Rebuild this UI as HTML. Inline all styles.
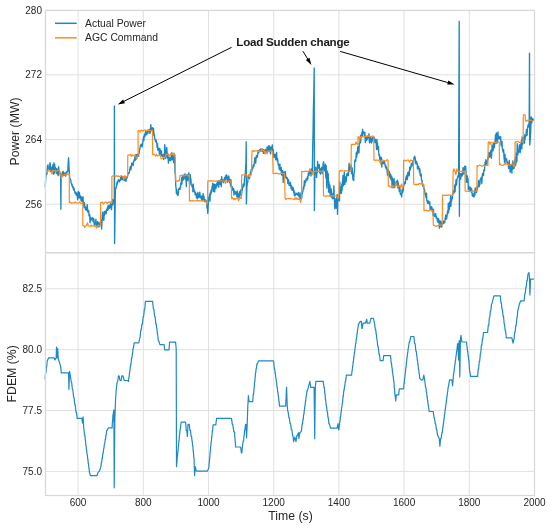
<!DOCTYPE html>
<html><head><meta charset="utf-8"><title>Power and FDEM</title>
<style>html,body{margin:0;padding:0;background:#fff;}svg{display:block;}</style></head>
<body>
<svg width="550" height="529" viewBox="0 0 550 529">
<rect width="550" height="529" fill="#ffffff"/>
<g stroke="#e0e0e0" stroke-width="1" fill="none"><line x1="78.10" y1="10.4" x2="78.10" y2="495.5"/><line x1="143.30" y1="10.4" x2="143.30" y2="495.5"/><line x1="208.50" y1="10.4" x2="208.50" y2="495.5"/><line x1="273.70" y1="10.4" x2="273.70" y2="495.5"/><line x1="338.90" y1="10.4" x2="338.90" y2="495.5"/><line x1="404.10" y1="10.4" x2="404.10" y2="495.5"/><line x1="469.30" y1="10.4" x2="469.30" y2="495.5"/><line x1="534.50" y1="10.4" x2="534.50" y2="495.5"/><line x1="45.5" y1="204.20" x2="534.5" y2="204.20"/><line x1="45.5" y1="139.50" x2="534.5" y2="139.50"/><line x1="45.5" y1="74.80" x2="534.5" y2="74.80"/><line x1="45.5" y1="471.40" x2="534.5" y2="471.40"/><line x1="45.5" y1="410.52" x2="534.5" y2="410.52"/><line x1="45.5" y1="349.65" x2="534.5" y2="349.65"/><line x1="45.5" y1="288.77" x2="534.5" y2="288.77"/></g>
<g fill="none" stroke-linejoin="round" stroke-linecap="butt" stroke-width="1.3">
<polyline stroke="#1b87c5" stroke-width="1.35" points="45.0,185.7 45.3,186.4 45.7,178.7 46.0,175.7 46.3,173.4 46.7,174.7 47.0,173.3 47.3,167.6 47.6,165.6 48.0,164.9 48.3,168.7 48.6,168.1 49.0,168.6 49.3,169.4 49.6,167.4 50.0,162.6 50.3,164.2 50.6,171.5 51.0,169.5 51.3,167.8 51.6,171.7 51.9,168.4 52.3,166.5 52.6,169.3 52.9,164.6 53.3,166.5 53.6,174.3 53.9,163.0 54.3,173.4 54.6,164.0 54.9,168.5 55.3,167.2 55.6,168.5 55.9,169.9 56.2,173.0 56.6,171.9 56.9,168.7 57.2,174.0 57.6,169.8 57.9,170.1 58.2,175.7 58.6,166.7 59.0,171.1 59.3,172.5 59.7,172.7 60.1,172.2 60.6,173.5 60.9,209.2 61.1,175.6 61.5,177.7 61.8,174.6 62.2,175.1 62.5,172.3 62.8,171.8 63.2,171.4 63.5,175.7 63.8,172.6 64.2,173.6 64.5,175.2 64.8,173.2 65.2,173.4 65.6,176.1 65.9,173.8 66.3,172.1 66.7,172.0 67.0,172.7 67.4,170.7 67.8,171.5 68.2,162.2 68.6,157.7 68.9,165.4 69.3,172.0 69.7,177.8 70.1,178.9 70.5,179.4 70.8,180.4 71.1,182.9 71.5,183.5 71.8,185.4 72.1,184.1 72.5,187.1 72.8,187.4 73.1,186.7 73.5,189.8 73.8,187.8 74.2,188.8 74.5,190.5 74.8,192.1 75.2,193.6 75.5,193.7 75.9,192.3 76.2,195.1 76.6,193.4 76.9,193.3 77.3,196.1 77.6,199.8 78.0,195.5 78.3,191.3 78.7,197.6 79.0,195.8 79.4,192.3 79.7,196.0 80.1,198.6 80.4,195.9 80.7,196.9 81.1,200.8 81.4,196.9 81.7,201.3 82.0,197.9 82.4,200.8 82.7,202.0 83.0,196.6 83.4,203.9 83.7,202.1 84.0,207.2 84.4,202.9 84.7,205.7 85.0,207.2 85.4,209.6 85.7,207.2 86.0,207.7 86.3,210.2 86.7,209.8 87.0,207.7 87.3,204.6 87.7,211.9 88.0,212.1 88.3,211.9 88.7,210.5 89.0,215.9 89.3,215.5 89.7,214.5 90.0,222.8 90.3,220.3 90.6,217.3 91.0,220.4 91.3,219.2 91.6,218.7 92.0,219.3 92.3,217.6 92.6,218.2 93.0,221.1 93.3,222.0 93.6,218.4 94.0,220.1 94.3,225.0 94.6,223.5 94.9,224.3 95.3,222.9 95.6,223.4 95.9,219.2 96.3,226.0 96.6,225.9 96.9,224.0 97.3,221.9 97.6,221.6 97.9,224.5 98.3,226.0 98.6,222.6 98.9,226.9 99.2,226.5 99.6,223.9 99.9,225.2 100.2,222.0 100.6,223.4 100.9,219.6 101.2,220.7 101.6,229.0 101.9,224.1 102.2,216.9 102.6,212.1 102.9,219.8 103.2,214.7 103.5,215.8 103.9,220.3 104.2,211.5 104.5,215.2 104.9,212.5 105.2,211.3 105.5,213.4 105.9,213.7 106.2,213.8 106.5,209.4 106.9,209.8 107.2,208.0 107.5,210.4 107.8,206.2 108.2,209.7 108.5,205.2 108.8,208.4 109.2,205.5 109.5,207.0 109.8,208.2 110.2,206.6 110.5,203.3 110.8,205.1 111.2,206.4 111.5,209.6 111.9,204.5 112.2,204.1 112.6,199.4 112.9,204.9 113.3,201.0 113.6,201.1 114.0,200.4 114.3,197.3 114.4,106.0 114.6,243.6 115.4,189.4 115.9,188.4 116.3,187.3 116.7,185.1 117.0,182.3 117.4,184.2 117.8,181.9 118.1,180.4 118.4,179.7 118.8,179.6 119.1,180.1 119.4,181.9 119.8,180.7 120.1,180.5 120.4,180.4 120.7,177.4 121.1,179.8 121.4,176.2 121.7,178.3 122.1,176.3 122.4,179.7 122.7,179.3 123.1,178.2 123.4,177.0 123.7,178.2 124.1,180.5 124.4,179.7 124.7,177.4 125.0,176.9 125.4,181.0 125.7,178.4 126.1,181.0 126.5,176.8 126.8,177.1 127.2,177.9 127.6,175.9 127.9,174.4 128.3,172.8 128.6,172.7 129.0,173.5 129.3,172.1 129.7,170.1 130.0,168.2 130.3,166.4 130.7,169.9 131.0,169.2 131.3,167.5 131.7,163.3 132.0,164.7 132.3,163.1 132.7,163.6 133.0,165.6 133.3,164.9 133.6,161.2 134.0,161.1 134.3,159.6 134.6,160.9 135.0,156.2 135.3,160.2 135.6,157.1 136.0,159.3 136.3,158.9 136.6,154.5 137.0,155.1 137.3,154.4 137.6,155.7 137.9,156.3 138.3,154.3 138.6,156.2 138.9,153.5 139.3,152.2 139.6,149.2 139.9,149.0 140.3,146.0 140.6,145.0 140.9,144.5 141.3,145.7 141.6,146.3 141.9,144.0 142.2,146.9 142.6,143.6 142.9,141.0 143.2,139.5 143.6,136.7 143.9,140.5 144.2,135.9 144.6,134.1 144.9,136.3 145.2,133.9 145.6,131.5 145.9,134.8 146.2,135.0 146.5,133.4 146.9,131.2 147.2,133.7 147.5,131.7 147.9,133.5 148.2,131.4 148.5,131.2 148.9,129.8 149.2,129.3 149.5,131.4 149.9,133.4 150.2,132.8 150.5,130.0 150.8,124.6 151.2,129.2 151.5,127.8 151.8,129.6 152.2,131.0 152.5,127.7 152.8,134.9 153.2,129.9 153.5,128.4 153.8,132.7 154.2,135.7 154.5,135.1 154.8,139.0 155.1,139.4 155.5,141.7 155.8,140.7 156.1,139.8 156.5,142.8 156.8,142.7 157.1,147.4 157.5,143.6 157.8,150.1 158.1,150.1 158.5,149.4 158.8,148.3 159.1,150.7 159.4,154.5 159.8,148.4 160.1,152.0 160.4,154.7 160.8,150.4 161.1,155.8 161.4,150.8 161.8,155.0 162.1,156.0 162.4,155.2 162.8,156.2 163.1,154.8 163.4,154.4 163.7,159.5 164.1,155.7 164.4,155.6 164.7,144.6 165.1,148.2 165.4,158.6 165.7,157.8 166.1,154.0 166.4,153.4 166.7,147.4 167.1,152.4 167.4,158.1 167.7,153.5 168.0,154.3 168.4,163.2 168.7,157.3 169.0,157.8 169.4,159.9 169.7,157.5 170.0,160.8 170.4,160.0 170.7,160.5 171.0,159.7 171.4,153.0 171.7,159.5 172.0,159.7 172.3,155.2 172.7,159.5 173.0,156.9 173.3,159.0 173.7,162.6 174.0,153.2 174.3,162.1 174.7,157.6 175.0,173.3 175.4,172.8 175.7,185.1 176.1,188.3 176.4,193.4 176.8,189.6 177.2,194.8 177.5,194.2 177.9,195.6 178.3,193.9 178.6,189.0 179.0,189.3 179.3,187.9 179.6,189.4 180.0,189.4 180.3,186.7 180.6,187.1 180.9,183.0 181.3,184.4 181.6,177.9 181.9,184.0 182.3,176.7 182.6,180.5 182.9,180.3 183.3,175.1 183.6,179.5 183.9,175.3 184.3,177.8 184.6,175.7 185.0,173.8 185.3,179.1 185.6,175.8 186.0,176.1 186.3,186.5 186.6,176.8 186.9,174.5 187.3,178.1 187.6,175.4 187.9,180.6 188.3,177.0 188.6,174.0 188.9,172.8 189.3,176.2 189.6,184.2 189.9,180.1 190.3,174.7 190.6,178.7 190.9,178.9 191.2,185.0 191.6,184.9 191.9,185.5 192.2,187.2 192.6,184.8 192.9,191.8 193.2,184.0 193.6,188.3 193.9,189.0 194.2,191.7 194.6,191.1 194.9,192.2 195.2,194.8 195.5,192.4 195.9,193.4 196.2,194.8 196.5,197.6 196.9,194.2 197.2,198.9 197.5,197.0 197.9,192.3 198.2,196.9 198.5,196.7 198.9,197.8 199.2,194.3 199.5,193.5 199.8,192.1 200.2,197.1 200.5,197.8 200.8,196.6 201.2,197.1 201.5,199.8 201.8,195.8 202.2,197.3 202.5,196.6 202.8,200.6 203.2,193.5 203.5,197.1 203.8,195.7 204.1,197.5 204.5,201.6 204.8,199.3 205.1,199.9 205.5,200.8 205.9,200.2 206.3,201.0 206.6,202.3 207.0,207.8 207.4,208.4 207.8,213.4 208.2,206.0 208.6,198.3 208.9,197.5 209.3,196.5 209.6,194.1 210.0,201.2 210.3,192.8 210.7,194.9 211.0,190.2 211.4,192.7 211.8,189.7 212.1,186.2 212.4,187.2 212.7,183.1 213.1,186.3 213.4,191.5 213.7,184.4 214.1,186.8 214.4,184.1 214.7,191.9 215.1,187.3 215.4,185.1 215.7,184.8 216.1,188.2 216.4,183.9 216.7,186.5 217.0,185.4 217.4,181.6 217.7,181.9 218.0,182.0 218.4,184.9 218.7,187.2 219.0,180.6 219.4,184.4 219.7,182.0 220.0,182.0 220.4,179.9 220.7,184.6 221.0,181.3 221.3,186.8 221.7,176.6 222.0,180.9 222.3,180.8 222.7,181.2 223.0,179.9 223.4,182.7 223.8,179.8 224.1,181.6 224.5,177.7 224.8,177.7 225.2,180.1 225.5,175.9 225.9,179.1 226.2,176.1 226.6,174.8 226.9,176.1 227.3,178.1 227.6,182.1 228.0,180.1 228.3,179.5 228.6,175.9 229.0,177.2 229.3,181.9 229.6,179.1 229.9,183.0 230.3,183.0 230.6,186.4 230.9,179.6 231.3,184.8 231.6,186.4 231.9,189.6 232.3,186.8 232.6,190.2 232.9,190.0 233.3,189.3 233.6,188.4 233.9,195.0 234.2,190.7 234.6,191.1 234.9,193.6 235.2,191.7 235.6,194.1 235.9,193.5 236.2,192.2 236.6,194.2 236.9,196.7 237.2,190.9 237.6,193.8 237.9,198.0 238.2,194.0 238.5,194.8 238.9,193.7 239.2,197.8 239.5,191.8 239.9,193.1 240.2,194.1 240.5,189.9 240.9,195.7 241.2,192.4 241.5,195.4 241.9,190.4 242.2,190.8 242.5,187.4 242.8,186.9 243.2,183.9 243.5,187.1 243.9,186.0 244.2,185.2 244.6,177.1 245.0,175.9 245.4,172.2 245.9,162.9 246.2,141.8 246.4,203.9 246.9,186.7 247.5,182.8 247.8,181.5 248.1,177.7 248.5,175.9 248.8,177.5 249.1,176.6 249.5,178.5 249.8,175.3 250.1,174.9 250.5,171.7 250.8,174.0 251.1,169.7 251.4,171.1 251.8,171.4 252.1,170.2 252.4,167.1 252.8,168.6 253.1,165.4 253.4,164.7 253.8,166.7 254.1,164.7 254.4,162.0 254.8,157.7 255.1,161.5 255.4,160.1 255.7,163.2 256.1,158.3 256.4,155.4 256.7,156.4 257.1,157.4 257.4,157.2 257.7,154.2 258.1,151.9 258.4,150.6 258.7,152.9 259.1,150.3 259.4,151.0 259.7,150.8 260.0,149.5 260.4,149.2 260.7,149.4 261.0,149.0 261.4,151.2 261.7,149.9 262.0,151.3 262.4,148.9 262.7,150.6 263.0,149.4 263.4,153.4 263.7,149.7 264.0,151.3 264.3,153.1 264.7,152.4 265.0,151.6 265.3,149.5 265.7,150.1 266.0,150.2 266.3,152.8 266.7,153.1 267.0,147.1 267.3,148.6 267.7,149.2 268.0,151.4 268.3,146.0 268.6,150.2 269.0,151.6 269.3,146.5 269.6,145.8 270.0,147.8 270.3,152.2 270.6,153.9 271.0,148.4 271.3,147.1 271.6,148.0 272.0,148.9 272.3,144.8 272.6,150.2 272.9,150.9 273.3,149.6 273.6,154.9 273.9,157.4 274.3,154.1 274.6,155.1 274.9,156.7 275.3,154.5 275.6,159.7 275.9,157.8 276.3,156.7 276.6,152.4 276.9,158.9 277.2,161.1 277.6,158.7 277.9,161.5 278.2,165.0 278.6,164.2 278.9,164.4 279.2,169.1 279.6,165.8 279.9,164.1 280.2,170.4 280.6,169.0 280.9,170.5 281.2,167.4 281.5,174.6 281.9,175.2 282.2,171.1 282.5,170.5 282.9,171.1 283.2,182.5 283.5,174.2 283.9,173.4 284.2,172.1 284.5,174.9 284.9,174.8 285.2,171.4 285.5,173.2 285.8,177.7 286.2,176.9 286.5,178.6 286.8,178.0 287.2,177.8 287.5,178.3 287.8,183.6 288.2,179.4 288.5,183.1 288.8,180.5 289.2,185.5 289.5,184.9 289.8,183.5 290.1,185.4 290.5,182.5 290.8,185.9 291.1,188.7 291.5,187.0 291.8,185.8 292.1,190.4 292.5,189.9 292.8,187.9 293.1,187.7 293.5,189.5 293.8,193.0 294.1,190.7 294.4,195.6 294.8,192.5 295.1,195.9 295.4,194.8 295.8,194.5 296.1,193.8 296.4,194.2 296.8,193.3 297.1,194.6 297.4,194.6 297.8,195.2 298.1,194.2 298.4,192.5 298.7,194.6 299.1,197.0 299.4,196.9 299.7,199.3 300.1,192.8 300.4,198.7 300.7,195.7 301.1,195.8 301.4,199.0 301.7,197.7 302.1,194.3 302.4,193.0 302.7,191.8 303.0,191.0 303.4,186.6 303.7,189.2 304.0,185.9 304.4,180.6 304.7,186.0 305.0,182.5 305.4,182.6 305.7,182.1 306.0,179.0 306.4,180.6 306.7,179.2 307.0,180.3 307.3,177.0 307.7,179.2 308.0,177.3 308.3,173.0 308.7,174.4 309.0,175.3 309.3,173.1 309.7,169.3 310.0,173.3 310.3,169.7 310.7,171.5 311.0,176.0 311.3,173.3 311.6,168.9 312.0,171.8 312.3,172.0 312.7,147.5 313.1,130.5 313.4,108.7 313.8,94.1 314.2,68.0 314.4,210.6 315.0,167.1 315.3,172.0 315.6,169.4 315.9,167.4 316.3,174.1 316.6,177.4 316.9,171.2 317.3,172.5 317.6,161.4 317.9,165.6 318.3,168.2 318.6,167.3 319.0,167.8 319.3,164.5 319.6,172.6 320.0,168.2 320.4,174.2 320.8,172.0 321.2,170.4 321.6,167.3 321.9,170.3 322.3,173.6 322.6,170.3 322.9,166.6 323.3,162.3 323.6,161.8 323.9,167.9 324.3,170.7 324.6,165.5 324.9,168.2 325.3,164.2 325.6,172.5 325.9,177.9 326.2,165.6 326.6,182.9 326.9,188.1 327.2,171.0 327.6,179.4 327.9,182.6 328.2,173.5 328.6,192.0 328.9,181.6 329.2,192.3 329.6,186.6 329.9,185.0 330.2,196.6 330.5,188.5 330.9,188.5 331.2,189.5 331.5,190.8 331.9,197.6 332.2,193.6 332.5,198.7 332.9,196.6 333.2,198.3 333.5,196.4 333.9,185.8 334.2,197.6 334.5,201.1 334.8,208.7 335.2,203.1 335.5,207.0 335.8,198.8 336.2,208.2 336.5,201.7 336.8,197.3 337.2,194.5 337.5,214.3 337.8,200.1 338.2,200.7 338.5,200.5 338.8,195.6 339.1,199.9 339.5,200.9 339.8,181.8 340.1,193.6 340.5,186.8 340.8,188.9 341.1,187.7 341.5,193.3 341.8,183.9 342.1,190.4 342.5,181.5 342.8,179.1 343.1,175.2 343.4,185.8 343.8,181.2 344.1,178.0 344.4,172.0 344.8,184.4 345.1,182.7 345.4,176.8 345.8,178.3 346.1,181.8 346.4,179.2 346.8,173.8 347.1,175.6 347.4,175.5 347.7,173.2 348.1,172.9 348.4,175.6 348.7,169.2 349.1,163.3 349.4,171.2 349.7,168.3 350.1,170.9 350.4,166.3 350.7,167.9 351.1,164.7 351.5,173.7 351.8,169.5 352.2,168.0 352.6,175.1 353.0,179.8 353.4,179.6 353.7,180.6 354.0,173.8 354.4,172.0 354.7,161.7 355.0,159.9 355.4,160.1 355.7,161.2 356.0,157.5 356.3,152.7 356.7,157.2 357.0,151.5 357.3,154.1 357.7,147.5 358.0,146.3 358.3,151.8 358.7,150.7 359.0,153.1 359.3,143.3 359.7,144.1 360.0,141.1 360.3,135.9 360.6,142.5 361.0,136.6 361.3,134.5 361.6,135.2 362.0,132.2 362.3,136.3 362.6,129.3 363.0,132.6 363.3,132.9 363.6,131.9 364.0,132.9 364.3,135.5 364.6,134.4 364.9,132.3 365.3,142.5 365.6,140.5 365.9,137.7 366.3,137.0 366.6,140.3 366.9,138.9 367.3,139.1 367.6,138.3 367.9,136.7 368.3,135.6 368.6,136.7 368.9,133.7 369.2,140.2 369.6,142.9 369.9,138.6 370.2,138.6 370.6,136.9 370.9,142.3 371.2,138.1 371.6,143.0 371.9,140.6 372.2,141.2 372.6,137.6 372.9,138.3 373.2,138.8 373.5,136.5 373.9,139.9 374.2,137.5 374.5,139.4 374.9,142.6 375.2,139.1 375.5,140.1 375.9,140.5 376.2,142.4 376.5,149.5 376.9,139.4 377.2,146.8 377.5,142.9 377.8,149.5 378.2,149.0 378.5,146.7 378.8,154.3 379.2,156.2 379.5,154.8 379.8,159.8 380.2,156.9 380.5,159.2 380.8,160.5 381.2,162.9 381.5,157.5 381.8,167.1 382.1,161.5 382.5,163.9 382.8,162.8 383.1,162.0 383.5,162.3 383.8,163.5 384.1,161.5 384.5,162.0 384.8,163.6 385.1,165.2 385.5,167.5 385.8,165.4 386.1,167.9 386.4,169.1 386.8,167.7 387.1,169.9 387.4,175.3 387.8,170.7 388.1,169.5 388.4,170.8 388.8,174.1 389.1,176.3 389.4,171.5 389.8,173.8 390.1,177.7 390.4,178.3 390.7,174.3 391.1,179.9 391.4,177.1 391.7,176.3 392.1,187.8 392.4,178.0 392.7,179.0 393.1,181.1 393.4,180.5 393.7,187.6 394.1,178.7 394.4,187.3 394.7,187.6 395.0,181.8 395.4,184.8 395.7,183.1 396.0,183.4 396.4,184.8 396.7,181.1 397.0,181.4 397.4,180.3 397.7,187.9 398.0,181.6 398.4,184.5 398.7,185.7 399.0,186.7 399.3,191.6 399.7,187.3 400.0,188.6 400.3,194.2 400.7,194.7 401.0,194.5 401.3,193.5 401.7,196.8 402.0,189.6 402.3,192.8 402.7,192.4 403.0,191.4 403.3,189.8 403.6,183.3 404.0,185.5 404.3,182.1 404.6,184.1 405.0,182.7 405.3,183.6 405.6,180.3 406.0,176.9 406.3,179.4 406.6,175.6 407.0,177.0 407.3,179.6 407.6,173.1 407.9,172.4 408.3,174.6 408.6,176.0 408.9,171.7 409.3,175.3 409.6,167.7 409.9,166.9 410.3,169.9 410.6,167.8 410.9,168.0 411.3,163.3 411.6,165.3 411.9,164.9 412.2,165.9 412.6,163.8 412.9,161.3 413.3,164.6 413.6,163.1 414.0,157.2 414.3,158.3 414.7,156.2 415.0,157.2 415.4,159.8 415.8,163.7 416.1,163.9 416.5,161.3 416.9,163.8 417.2,163.3 417.5,168.9 417.9,166.8 418.2,168.7 418.5,166.1 418.9,168.6 419.2,169.3 419.5,172.4 419.9,169.0 420.2,175.4 420.5,175.7 420.8,176.1 421.2,174.0 421.5,180.2 421.8,180.4 422.2,180.7 422.5,184.8 422.8,185.3 423.2,186.7 423.5,185.0 423.8,187.9 424.2,188.7 424.5,189.1 424.8,192.0 425.1,194.7 425.5,193.3 425.8,196.5 426.1,197.7 426.5,193.1 426.8,200.8 427.1,200.2 427.5,203.1 427.8,201.0 428.1,203.4 428.5,201.0 428.8,201.9 429.1,203.6 429.4,203.9 429.8,201.9 430.1,209.6 430.4,208.1 430.8,206.9 431.1,209.5 431.4,209.5 431.8,206.8 432.1,208.9 432.4,211.4 432.8,211.4 433.1,215.5 433.4,209.1 433.7,212.6 434.1,214.6 434.4,216.3 434.7,214.9 435.1,216.2 435.4,213.9 435.7,213.6 436.1,218.0 436.4,216.4 436.7,218.5 437.1,218.3 437.4,221.0 437.7,218.8 438.0,222.4 438.4,218.5 438.7,221.7 439.0,219.9 439.4,228.3 439.7,222.1 440.0,221.2 440.4,226.8 440.7,221.6 441.0,221.2 441.4,223.9 441.7,227.0 442.0,224.9 442.3,224.0 442.7,224.0 443.0,223.3 443.3,221.1 443.7,223.6 444.0,221.3 444.3,221.5 444.7,222.6 445.0,220.0 445.3,218.5 445.7,215.0 446.0,219.3 446.3,216.3 446.6,218.8 447.0,215.9 447.3,213.4 447.6,210.9 448.0,213.7 448.3,203.1 448.6,212.4 449.0,205.7 449.3,209.5 449.6,202.1 450.0,206.8 450.3,202.2 450.6,195.4 450.9,206.4 451.3,197.3 451.6,201.1 451.9,197.8 452.3,198.7 452.6,194.4 453.0,193.2 453.3,190.4 453.7,193.4 454.1,190.9 454.4,192.3 454.7,185.3 455.1,191.7 455.4,184.3 455.7,183.8 456.1,179.6 456.4,185.2 456.7,182.4 457.1,178.8 457.4,178.2 457.7,176.0 458.0,176.7 458.6,176.0 459.2,21.3 459.4,216.3 459.6,177.2 460.0,176.7 460.3,173.6 460.7,179.1 461.0,174.1 461.3,173.4 461.7,174.3 462.0,176.0 462.3,174.8 462.7,174.8 463.0,167.7 463.3,168.5 463.7,168.3 464.0,173.9 464.3,168.5 464.7,166.3 465.0,168.9 465.3,169.5 465.6,166.1 466.0,172.2 466.3,182.3 466.6,177.5 467.0,180.6 467.3,175.8 467.6,182.4 468.0,178.3 468.3,189.6 468.6,185.8 468.9,187.6 469.3,187.1 469.6,188.4 469.9,191.2 470.3,190.5 470.6,187.3 470.9,188.9 471.3,192.2 471.6,188.7 471.9,191.3 472.3,195.7 472.6,194.7 472.9,196.3 473.2,193.9 473.6,194.4 473.9,197.0 474.2,195.7 474.6,190.5 474.9,195.4 475.2,187.9 475.6,190.3 475.9,190.2 476.2,188.0 476.5,192.7 476.9,188.0 477.2,189.9 477.5,186.9 477.9,186.0 478.2,186.8 478.5,180.7 478.9,183.7 479.2,186.7 479.5,181.0 479.9,184.8 480.2,179.3 480.5,178.8 480.8,179.5 481.2,177.3 481.5,178.9 481.8,183.5 482.2,177.4 482.5,173.4 482.8,175.5 483.2,173.2 483.5,175.6 483.8,170.5 484.1,169.4 484.5,170.7 484.8,165.1 485.1,162.2 485.5,165.2 485.8,159.7 486.1,161.5 486.5,164.3 486.8,164.7 487.1,162.8 487.5,160.5 487.8,157.1 488.1,159.3 488.4,156.5 488.8,152.5 489.1,152.8 489.4,156.4 489.8,157.4 490.1,154.6 490.4,151.9 490.8,150.4 491.1,150.6 491.4,158.3 491.7,153.6 492.1,144.7 492.4,147.8 492.7,147.6 493.1,150.8 493.4,148.6 493.7,142.5 494.1,144.5 494.4,147.6 494.7,143.5 495.1,143.3 495.4,135.0 495.7,143.0 496.0,139.1 496.4,132.8 496.7,136.1 497.0,143.2 497.4,141.9 497.7,138.0 498.0,132.0 498.4,138.9 498.7,136.8 499.0,136.5 499.3,136.7 499.7,138.9 500.0,138.8 500.3,139.0 500.7,136.6 501.0,143.9 501.3,145.8 501.7,145.5 502.0,141.3 502.3,148.9 502.7,149.8 503.0,152.0 503.3,150.8 503.6,149.4 504.0,156.9 504.3,159.7 504.6,162.7 505.0,154.3 505.3,159.7 505.6,162.3 506.0,162.5 506.3,161.8 506.6,158.7 506.9,163.1 507.3,161.4 507.6,163.7 507.9,163.2 508.3,163.1 508.6,168.4 508.9,167.2 509.3,160.5 509.6,168.8 509.9,168.6 510.2,172.3 510.6,167.7 510.9,164.4 511.2,169.2 511.6,170.0 511.9,173.0 512.2,165.1 512.6,169.1 512.9,160.8 513.2,167.9 513.6,168.7 513.9,163.4 514.2,168.3 514.5,162.6 514.9,160.5 515.2,157.6 515.5,165.9 515.9,163.7 516.2,153.1 516.5,160.3 516.9,161.7 517.2,143.7 517.5,149.5 517.8,154.8 518.2,151.4 518.5,150.2 518.8,152.1 519.2,145.7 519.5,144.8 519.8,151.1 520.2,152.6 520.5,147.9 520.8,143.7 521.2,146.8 521.5,140.4 521.8,149.0 522.1,137.0 522.5,143.7 522.8,144.1 523.1,140.2 523.5,137.7 523.8,141.3 524.1,137.0 524.5,143.2 524.8,134.7 525.1,139.3 525.4,135.5 525.8,136.5 526.1,134.9 526.4,129.7 526.8,130.0 527.1,135.2 527.4,129.6 527.8,126.4 528.1,125.0 528.4,127.1 528.8,125.7 529.2,121.1 529.5,53.1 529.7,144.9 530.2,139.7 530.7,132.4 531.1,116.9 531.4,117.4 531.7,123.1 532.1,119.6 532.4,118.7 532.7,120.2 533.0,120.5 533.4,118.5"/>
<polyline stroke="#ff8a1c" stroke-width="1.2" points="46.3,170.9 47.3,170.7 48.2,170.5 49.2,171.2 50.1,170.9 51.0,170.9 52.0,174.2 52.9,171.1 53.9,170.4 54.8,170.6 55.8,171.1 56.7,171.4 57.7,170.4 58.6,170.4 59.6,170.9 59.6,174.8 60.5,172.4 61.5,178.5 62.5,175.3 63.5,175.0 64.4,174.4 65.4,175.1 66.4,175.1 67.4,174.2 68.4,174.1 69.3,174.8 69.3,202.6 70.3,202.2 71.3,203.4 72.2,202.8 73.2,202.9 74.2,203.0 75.1,201.9 76.1,202.8 77.1,202.8 78.0,203.2 79.0,202.9 79.9,202.0 80.9,203.3 81.9,203.1 82.8,202.6 82.8,225.6 83.8,225.5 84.7,227.4 85.6,225.8 86.6,225.7 87.5,222.8 88.4,225.8 89.4,226.2 90.3,226.2 91.2,225.0 92.2,226.3 93.1,225.8 94.0,225.9 95.0,226.4 95.9,226.1 96.8,228.1 97.8,225.6 98.7,225.3 99.6,225.6 100.6,225.6 100.6,202.6 101.5,202.5 102.5,202.0 103.4,204.1 104.4,202.9 105.3,202.0 106.3,202.0 107.2,203.7 108.2,202.1 109.1,202.4 110.1,201.9 111.0,201.9 111.9,202.6 111.9,176.2 112.9,175.9 113.8,175.9 114.7,176.0 115.6,176.5 116.5,175.6 117.5,176.4 118.4,175.9 119.3,176.7 120.2,176.1 121.1,175.8 122.1,176.2 123.0,176.5 123.9,179.5 124.8,175.5 125.7,178.2 126.6,176.8 127.6,176.2 127.8,155.0 128.8,154.9 129.7,155.2 130.6,154.5 131.6,156.4 132.5,154.8 133.5,155.3 134.4,155.8 135.3,154.2 136.3,158.1 137.2,158.4 138.1,155.0 138.1,130.4 139.1,130.7 140.1,132.3 141.0,130.3 142.0,130.1 142.9,131.0 143.9,130.2 144.8,129.7 145.8,130.9 146.7,131.0 147.7,129.8 148.6,130.8 149.6,130.3 150.5,130.5 151.5,130.5 152.4,130.4 152.7,155.0 153.6,154.3 154.6,154.9 155.5,156.0 156.4,154.3 157.4,156.1 158.3,155.6 159.3,155.2 160.2,154.8 161.1,158.8 162.1,158.5 163.0,158.1 163.9,157.2 164.9,157.8 165.8,155.0 166.8,154.3 167.7,154.1 168.6,155.6 169.6,155.9 170.5,153.9 171.4,154.3 172.4,152.8 173.3,154.8 174.3,154.2 175.2,155.0 175.5,180.9 176.5,180.9 177.4,181.4 178.4,180.7 179.4,180.9 180.0,175.6 181.0,175.7 182.0,175.1 183.0,175.8 184.0,175.9 185.0,175.6 186.1,175.0 187.1,174.9 188.2,176.2 189.3,174.8 189.5,200.8 190.5,200.6 191.4,200.8 192.4,200.7 193.3,200.8 194.3,200.8 195.2,200.8 196.2,200.9 197.1,200.5 198.0,200.9 199.0,200.7 199.9,200.9 200.9,200.9 201.8,200.7 202.8,200.9 203.7,201.0 204.7,200.9 205.6,201.0 206.6,203.9 207.5,200.8 207.8,180.9 208.7,180.8 209.6,181.1 210.6,180.7 211.5,180.8 212.4,180.7 213.4,181.1 214.3,181.2 215.2,181.2 216.2,181.1 217.1,181.1 218.0,180.7 219.0,181.1 219.9,180.7 220.8,181.0 221.8,180.8 222.7,181.1 223.6,181.1 224.6,181.1 225.5,183.5 226.4,180.7 227.3,181.0 228.3,181.1 229.2,181.0 230.1,180.9 231.1,180.9 231.6,198.6 232.6,197.6 233.6,199.8 234.5,198.5 235.5,199.4 236.5,198.2 237.5,197.9 238.5,200.8 239.4,199.0 240.4,197.2 241.4,198.6 241.7,174.8 242.6,175.0 243.6,174.8 244.6,175.2 245.6,174.5 246.6,175.3 247.5,177.6 248.5,174.4 249.5,176.8 250.5,174.8 251.4,174.8 252.0,151.0 252.9,150.6 253.9,151.5 254.8,150.8 255.7,150.8 256.7,150.8 257.6,150.5 258.5,151.4 259.5,150.9 260.4,151.3 261.4,151.5 262.3,148.5 263.2,150.9 264.2,150.6 265.1,154.1 266.0,151.3 267.0,153.9 267.9,151.1 268.9,150.9 269.8,151.2 270.7,151.4 271.7,151.3 272.6,151.0 273.1,173.5 274.1,173.6 275.0,173.6 276.0,173.2 276.9,173.4 277.9,173.6 278.8,173.9 279.8,173.9 280.7,173.4 281.7,173.4 282.6,173.8 283.6,173.4 284.5,173.5 285.1,198.6 286.0,199.5 286.9,198.7 287.8,198.7 288.7,198.7 289.6,198.6 290.5,198.6 291.4,198.8 292.3,199.0 293.3,199.0 294.2,199.6 295.1,197.7 296.0,199.6 296.9,197.8 297.8,199.4 298.7,199.3 299.6,198.0 300.5,202.4 301.5,198.6 301.7,171.4 302.6,171.7 303.6,171.7 304.5,171.4 305.4,171.0 306.3,171.4 307.2,171.3 308.1,171.6 309.0,171.6 309.9,168.7 310.9,171.2 311.8,171.7 312.7,174.9 313.6,171.2 314.5,171.8 315.4,171.3 316.3,170.9 317.2,171.2 318.2,171.2 319.1,171.4 320.0,171.4 321.1,171.4 322.1,171.2 323.2,170.9 323.5,196.0 324.4,196.1 325.3,196.1 326.2,196.1 327.1,195.9 328.0,195.9 328.9,195.8 329.8,196.0 330.7,195.9 331.6,195.9 332.5,195.8 333.4,195.9 334.3,195.8 335.2,196.0 336.1,196.0 337.0,196.1 337.9,198.7 338.8,196.0 339.3,170.9 340.3,170.7 341.3,170.8 342.3,170.7 343.2,171.0 344.2,170.9 345.2,170.7 346.1,171.0 347.1,170.7 348.1,170.8 349.0,171.0 350.0,170.8 351.0,170.9 351.3,144.4 352.2,144.6 353.1,144.1 354.1,144.5 355.0,144.6 356.0,141.9 356.9,143.9 357.9,144.4 358.1,136.5 359.1,139.0 360.0,138.9 360.9,136.7 361.8,136.8 362.7,136.6 363.6,137.0 364.6,136.6 365.5,136.5 366.4,136.1 367.3,136.0 368.2,135.8 369.2,136.7 370.1,136.1 371.0,136.8 371.9,136.1 372.8,136.1 373.7,136.5 374.0,160.3 374.9,160.0 375.9,160.6 376.8,160.1 377.8,160.1 378.7,160.5 379.6,160.9 380.6,164.3 381.5,160.4 382.4,159.8 383.4,160.3 384.3,160.5 385.2,161.1 386.2,160.8 387.1,159.6 388.0,160.3 388.3,186.2 389.2,185.6 390.2,187.1 391.1,187.1 392.1,185.4 393.0,185.9 394.0,187.0 394.9,187.0 395.8,182.3 396.8,185.4 397.7,187.0 398.7,186.0 399.6,185.6 400.6,187.3 401.5,184.0 402.4,188.5 403.4,186.2 403.6,160.3 404.6,160.2 405.6,160.7 406.6,160.3 407.6,160.0 408.5,160.2 409.5,162.2 410.5,160.1 411.5,160.4 412.5,160.7 413.4,160.3 413.7,184.1 414.6,184.7 415.5,184.2 416.4,184.8 417.4,184.4 418.3,184.5 419.2,183.4 420.1,183.8 421.0,184.3 421.9,182.0 422.8,184.7 423.8,184.1 424.0,210.6 425.0,210.6 426.0,210.0 427.0,210.7 428.0,210.6 429.0,210.9 430.0,210.0 431.0,209.8 432.0,211.0 433.0,210.6 433.3,225.1 434.3,225.4 435.3,225.9 436.3,226.4 437.3,225.6 438.3,225.8 439.3,224.7 440.3,225.1 441.3,225.1 442.3,225.1 442.5,195.2 443.5,195.0 444.4,195.3 445.4,195.3 446.3,195.1 447.2,195.4 448.2,195.1 449.1,195.1 450.1,195.1 451.0,195.3 451.9,195.3 452.9,195.2 453.1,171.4 454.0,168.8 454.9,171.5 455.9,174.8 456.8,168.9 457.7,171.1 458.6,170.8 459.5,172.0 460.4,171.4 461.3,171.2 462.2,171.6 463.1,171.1 464.0,172.4 464.9,171.9 465.2,191.2 466.1,191.2 467.1,191.2 468.1,191.4 469.1,191.1 470.0,191.4 471.0,191.3 472.0,191.1 472.9,191.0 473.9,191.2 474.9,191.2 475.8,191.1 476.8,191.2 477.1,165.6 478.0,166.2 478.9,165.4 479.8,164.9 480.7,165.6 481.6,166.1 482.5,166.1 483.4,165.1 484.3,166.1 485.2,165.5 486.1,165.3 487.0,164.8 487.9,165.6 488.2,142.3 489.1,141.6 490.0,144.5 491.0,142.2 491.9,142.9 492.8,142.8 493.7,142.4 494.7,142.4 495.6,142.5 496.5,142.1 497.4,141.5 498.4,141.7 499.3,142.3 499.5,164.8 500.4,164.0 501.3,165.3 502.2,165.5 503.2,165.4 504.1,164.1 505.0,164.8 505.9,161.3 506.8,164.2 507.7,164.1 508.6,165.0 509.5,165.2 510.4,165.1 511.3,164.3 512.2,164.1 513.1,164.0 514.0,167.1 514.9,164.8 515.1,141.8 516.1,142.1 517.1,141.2 518.1,141.5 519.1,142.3 520.1,142.3 521.1,141.5 522.1,141.7 523.1,141.8 523.3,114.8 525.2,114.8 525.4,120.6 526.5,121.3 527.5,120.2 528.5,121.3 529.5,120.0 530.5,120.3 531.6,120.5 532.6,120.6"/>
<polyline stroke="#1d8ac4" stroke-width="1.2" points="45.0,379.0 45.6,372.9 45.9,372.9 46.4,366.9 46.7,366.9 47.2,360.8 47.4,360.8 48.6,357.8 54.1,357.8 55.0,359.9 56.2,357.8 56.5,347.2 57.1,357.8 57.7,348.7 58.3,359.3 59.5,362.3 60.7,366.9 61.3,372.9 61.6,372.9 68.6,372.9 68.9,389.5 69.5,371.4 70.4,375.9 71.2,382.0 71.6,382.0 72.4,389.5 72.8,389.5 73.6,397.1 74.0,397.1 74.8,404.7 75.2,404.7 76.0,412.2 76.4,412.2 77.2,418.3 77.6,418.3 81.9,418.3 82.5,422.8 83.1,416.8 83.7,427.3 84.5,434.9 84.9,434.9 85.3,440.2 85.5,440.2 85.9,445.5 86.1,445.5 86.5,450.0 86.7,450.0 87.1,454.5 87.3,454.5 87.7,459.1 87.9,459.1 88.3,463.6 88.5,463.6 88.9,468.1 89.1,468.1 89.5,472.7 89.7,472.7 90.3,475.7 97.0,475.7 97.9,472.7 99.4,471.2 100.9,466.6 101.4,462.1 101.7,462.1 102.2,457.6 102.4,457.6 102.9,453.0 103.2,453.0 103.7,448.5 103.9,448.5 104.4,444.0 104.7,444.0 105.2,439.4 105.5,439.4 106.0,434.9 106.2,434.9 106.7,430.4 107.0,430.4 108.5,427.9 112.1,427.9 112.4,421.6 112.6,421.6 112.9,415.2 113.0,415.2 113.9,409.8 114.2,487.8 114.8,421.3 115.4,403.2 115.7,396.3 115.9,396.3 116.2,389.5 116.3,389.5 117.1,382.0 117.6,382.0 118.5,375.9 119.1,375.9 120.0,380.5 121.2,380.5 121.8,375.9 123.0,375.9 124.2,380.5 128.1,380.5 128.5,381.5 128.9,377.0 129.1,377.0 129.5,372.5 129.7,372.5 130.5,364.9 130.9,364.9 131.7,357.3 132.1,357.3 132.5,352.8 132.7,352.8 133.1,348.3 133.3,348.3 134.2,342.8 138.7,342.8 140.0,337.7 140.7,330.1 141.2,330.1 141.9,324.1 142.4,324.1 143.2,316.5 143.6,316.5 144.4,309.0 144.8,309.0 145.4,301.4 145.7,301.4 152.6,301.4 153.4,309.0 153.9,309.0 154.6,316.5 155.1,316.5 155.9,324.1 156.3,324.1 156.7,328.6 156.9,328.6 157.3,333.2 157.5,333.2 158.3,340.7 158.7,340.7 159.9,344.6 164.1,344.6 164.7,349.8 169.0,349.8 169.6,342.2 169.9,342.2 175.6,342.2 176.2,348.7 176.5,466.6 177.1,460.6 177.4,455.5 177.6,455.5 177.9,450.5 178.1,450.5 178.4,445.5 178.6,445.5 178.9,440.4 179.1,440.4 179.4,435.4 179.6,435.4 179.9,430.4 180.1,430.4 181.1,422.2 181.6,422.2 185.6,422.2 186.3,430.4 186.8,430.4 187.4,436.4 188.0,424.3 189.2,424.3 190.0,430.4 190.4,430.4 191.2,436.4 191.6,436.4 192.0,440.9 192.2,440.9 192.6,445.5 192.8,445.5 193.2,451.5 193.4,451.5 193.8,457.6 194.0,457.6 194.6,475.7 195.2,466.6 196.4,471.2 207.3,471.2 208.8,468.1 209.2,462.6 209.3,462.6 209.7,457.1 209.8,457.1 210.2,451.5 210.3,451.5 210.7,446.5 210.8,446.5 211.2,441.4 211.4,441.4 211.7,436.4 211.9,436.4 212.3,430.7 212.6,430.7 213.1,424.9 213.4,424.9 215.8,424.9 216.6,418.3 217.0,418.3 231.5,418.3 232.3,424.3 232.7,424.3 233.9,431.9 234.5,431.9 234.8,436.9 234.9,436.9 235.2,441.9 235.3,441.9 235.6,447.0 235.7,447.0 240.6,447.0 241.4,453.0 241.8,453.0 242.4,447.0 243.2,440.9 243.6,440.9 244.0,435.6 244.2,435.6 244.6,430.4 244.8,430.4 245.6,424.3 246.0,424.3 246.6,437.9 247.2,424.3 247.8,406.2 248.4,395.6 249.0,401.6 252.7,401.6 253.3,394.1 253.6,394.1 254.0,388.0 254.2,388.0 254.6,382.0 254.8,382.0 255.1,377.5 255.2,377.5 255.5,372.9 255.7,372.9 256.2,368.4 256.4,368.4 256.9,363.9 257.2,363.9 258.7,360.8 273.2,360.8 273.6,361.0 274.4,369.2 274.8,369.2 275.2,373.7 275.4,373.7 275.8,378.3 276.0,378.3 276.4,382.8 276.7,382.8 277.0,387.3 277.3,387.3 277.6,391.9 277.9,391.9 278.3,396.4 278.5,396.4 278.9,401.2 279.1,401.2 279.5,406.1 279.7,406.1 285.7,406.1 285.9,399.8 286.0,399.8 286.2,393.6 286.3,393.6 286.5,387.3 286.6,387.3 287.2,405.5 287.8,411.5 288.1,411.5 288.9,417.6 289.3,417.6 290.1,423.6 290.6,423.6 291.3,429.7 291.8,429.7 292.6,435.7 293.0,435.7 293.6,441.7 294.8,437.2 296.0,441.7 296.8,435.7 297.2,435.7 298.4,432.7 299.0,438.7 299.8,432.7 300.2,432.7 301.4,431.2 302.2,423.6 302.6,423.6 303.0,419.1 303.3,419.1 303.6,414.5 303.9,414.5 304.3,410.0 304.5,410.0 304.9,405.5 305.1,405.5 305.5,400.9 305.7,400.9 306.1,396.4 306.3,396.4 307.1,390.4 307.5,390.4 308.7,385.8 309.9,381.3 310.7,387.3 311.1,387.3 314.1,387.3 314.7,438.7 315.3,387.3 315.9,381.3 323.2,381.3 324.0,387.3 324.4,387.3 324.8,393.4 325.0,393.4 325.4,399.4 325.6,399.4 326.2,405.5 326.5,405.5 327.1,411.5 327.4,411.5 328.0,417.6 328.3,417.6 328.9,423.6 329.3,423.6 330.5,428.1 337.1,428.1 338.0,423.6 338.6,429.7 338.9,429.7 339.3,425.1 339.5,425.1 339.9,420.6 340.1,420.6 340.5,416.1 340.7,416.1 341.1,411.5 341.3,411.5 341.7,407.0 341.9,407.0 342.3,402.5 342.6,402.5 343.0,396.4 343.3,396.4 343.8,390.4 344.1,390.4 344.6,385.8 344.8,385.8 345.3,381.3 345.6,381.3 346.4,375.2 346.8,375.2 351.6,375.2 352.0,370.7 352.2,370.7 352.6,366.2 352.8,366.2 353.2,361.6 353.4,361.6 353.8,357.1 354.0,357.1 354.4,352.6 354.6,352.6 355.0,348.0 355.2,348.0 355.6,343.5 355.9,343.5 356.2,339.0 356.5,339.0 356.9,334.4 357.1,334.4 357.5,329.9 357.7,329.9 358.5,323.9 358.9,323.9 360.1,321.4 361.3,321.4 361.9,328.4 362.2,328.4 363.1,323.2 365.5,323.2 366.7,319.3 367.3,323.2 369.8,323.2 371.0,318.4 373.4,318.4 374.6,323.9 375.4,329.9 375.8,329.9 376.2,334.4 376.4,334.4 376.8,339.0 377.0,339.0 377.8,346.5 378.2,346.5 379.0,354.1 379.4,354.1 380.2,360.7 380.6,360.7 383.1,360.7 383.7,355.6 384.5,355.6 390.6,355.6 391.2,363.2 391.5,363.2 391.9,367.7 392.1,367.7 392.5,372.2 392.7,372.2 393.1,376.8 393.3,376.8 393.7,381.3 393.9,381.3 394.3,388.1 394.5,388.1 394.9,394.9 395.1,394.9 395.7,400.9 396.3,394.9 396.6,394.9 398.7,394.9 399.3,388.8 399.6,388.8 403.6,388.8 404.0,383.6 404.2,383.6 404.6,378.3 404.8,378.3 405.2,373.0 405.4,373.0 405.8,367.7 406.0,367.7 406.4,362.4 406.6,362.4 407.0,357.1 407.2,357.1 407.6,352.6 407.8,352.6 408.2,348.0 408.4,348.0 409.2,342.0 409.6,342.0 410.8,336.5 413.9,336.5 414.6,343.5 415.1,343.5 415.9,351.1 416.3,351.1 416.7,355.6 416.9,355.6 417.3,360.1 417.5,360.1 417.9,364.7 418.1,364.7 418.5,369.2 418.7,369.2 419.1,373.7 419.3,373.7 419.7,378.3 419.9,378.3 421.1,379.8 422.9,379.8 423.8,375.2 424.7,379.8 425.5,387.3 425.9,387.3 426.3,391.9 426.6,391.9 426.9,396.4 427.2,396.4 427.6,400.9 427.8,400.9 428.2,405.5 428.4,405.5 429.2,411.5 429.6,411.5 433.2,411.5 434.0,417.6 434.4,417.6 435.2,423.6 435.6,423.6 436.4,429.7 436.8,429.7 437.6,435.7 438.0,435.7 439.3,438.7 439.9,446.3 440.6,438.7 441.1,438.7 441.9,432.7 442.3,432.7 442.7,428.1 442.9,428.1 443.3,423.6 443.5,423.6 443.9,419.1 444.1,419.1 444.5,414.5 444.7,414.5 445.1,410.0 445.3,410.0 445.7,405.5 445.9,405.5 446.3,400.9 446.5,400.9 446.9,396.4 447.1,396.4 447.5,391.9 447.7,391.9 448.1,387.3 448.3,387.3 449.5,379.8 450.1,379.8 451.9,379.8 452.6,385.8 453.2,378.3 453.5,373.7 453.8,373.7 454.2,369.2 454.4,369.2 454.8,364.7 455.0,364.7 455.4,360.1 455.6,360.1 456.0,355.6 456.2,355.6 456.6,351.1 456.8,351.1 457.6,343.5 458.0,343.5 458.6,360.1 459.2,340.5 459.8,376.8 460.4,340.5 461.0,335.3 461.8,342.0 462.2,342.0 466.5,342.0 466.9,346.5 467.1,346.5 467.5,351.1 467.7,351.1 468.1,355.6 468.3,355.6 468.7,360.1 468.9,360.1 469.5,369.8 470.6,376.4 471.2,376.4 477.6,376.4 478.2,369.0 478.6,369.0 479.3,361.1 479.7,361.1 480.4,353.2 480.7,353.2 481.4,345.2 481.8,345.2 482.5,338.6 482.8,338.6 483.5,332.5 483.9,332.5 487.6,332.5 488.3,325.4 488.7,325.4 489.4,317.5 489.7,317.5 490.4,310.9 490.8,310.9 491.5,304.2 491.8,304.2 492.9,299.7 494.0,295.8 500.3,295.8 501.0,302.9 501.4,302.9 502.0,309.5 502.4,309.5 503.1,316.1 503.5,316.1 504.2,324.1 504.5,324.1 505.2,330.7 505.6,330.7 506.3,337.8 506.6,337.8 511.9,337.8 513.0,343.1 514.1,338.6 514.7,332.0 515.1,332.0 515.8,325.4 516.2,325.4 516.9,317.5 517.2,317.5 517.9,309.5 518.3,309.5 519.3,304.2 520.7,300.8 524.1,300.8 524.8,293.7 525.2,293.7 525.9,287.0 526.2,287.0 526.9,280.4 527.3,280.4 528.0,273.8 528.3,273.8 528.9,272.5 529.4,276.5 529.9,295.0 530.5,279.1 533.9,279.1"/>
</g>
<g stroke="#d8d8d8" stroke-width="1.25" fill="none"><rect x="45.5" y="10.4" width="489.0" height="242.29999999999998"/><rect x="45.5" y="252.7" width="489.0" height="242.8"/></g>
<g stroke-width="1.5"><line x1="55" y1="23.3" x2="76.7" y2="23.3" stroke="#1b87c5"/><line x1="55" y1="37.8" x2="76.7" y2="37.8" stroke="#ff8a1c"/></g>
<g font-family="Liberation Sans, Arial, sans-serif" font-size="10" fill="#262626">
<text x="85.1" y="26.9" font-size="10.35">Actual Power</text><text x="85.1" y="41.3" font-size="10.35">AGC Command</text>
<text x="42" y="207.80" text-anchor="end">256</text>
<text x="42" y="143.10" text-anchor="end">264</text>
<text x="42" y="78.40" text-anchor="end">272</text>
<text x="42" y="13.70" text-anchor="end">280</text>
<text x="42" y="475.00" text-anchor="end">75.0</text>
<text x="42" y="414.12" text-anchor="end">77.5</text>
<text x="42" y="353.25" text-anchor="end">80.0</text>
<text x="42" y="292.38" text-anchor="end">82.5</text>
<text x="78.10" y="505.6" text-anchor="middle">600</text>
<text x="143.30" y="505.6" text-anchor="middle">800</text>
<text x="208.50" y="505.6" text-anchor="middle">1000</text>
<text x="273.70" y="505.6" text-anchor="middle">1200</text>
<text x="338.90" y="505.6" text-anchor="middle">1400</text>
<text x="404.10" y="505.6" text-anchor="middle">1600</text>
<text x="469.30" y="505.6" text-anchor="middle">1800</text>
<text x="534.50" y="505.6" text-anchor="middle">2000</text>
</g>
<g font-family="Liberation Sans, Arial, sans-serif" font-size="12.25" fill="#262626">
<text x="290.5" y="520" text-anchor="middle">Time (s)</text>
<text transform="translate(18.5,131.5) rotate(-90)" text-anchor="middle">Power (MW)</text>
<text transform="translate(15.5,373.8) rotate(-90)" text-anchor="middle">FDEM (%)</text>
</g>
<text x="236.3" y="45.6" font-family="Liberation Sans, Arial, sans-serif" font-size="11.6" font-weight="bold" letter-spacing="-0.22" fill="#1a1a1a">Load Sudden change</text>
<line x1="231.6" y1="47.3" x2="124.06" y2="101.26" stroke="#000" stroke-width="1"/><polygon points="117.8,104.4 123.11,99.38 125.00,103.14" fill="#000"/>
<line x1="302.9" y1="51.2" x2="307.71" y2="58.95" stroke="#000" stroke-width="1"/><polygon points="311.4,64.9 305.93,60.06 309.49,57.84" fill="#000"/>
<line x1="340.2" y1="51.4" x2="447.78" y2="82.55" stroke="#000" stroke-width="1"/><polygon points="454.5,84.5 447.19,84.57 448.36,80.54" fill="#000"/>
</svg>
</body></html>
